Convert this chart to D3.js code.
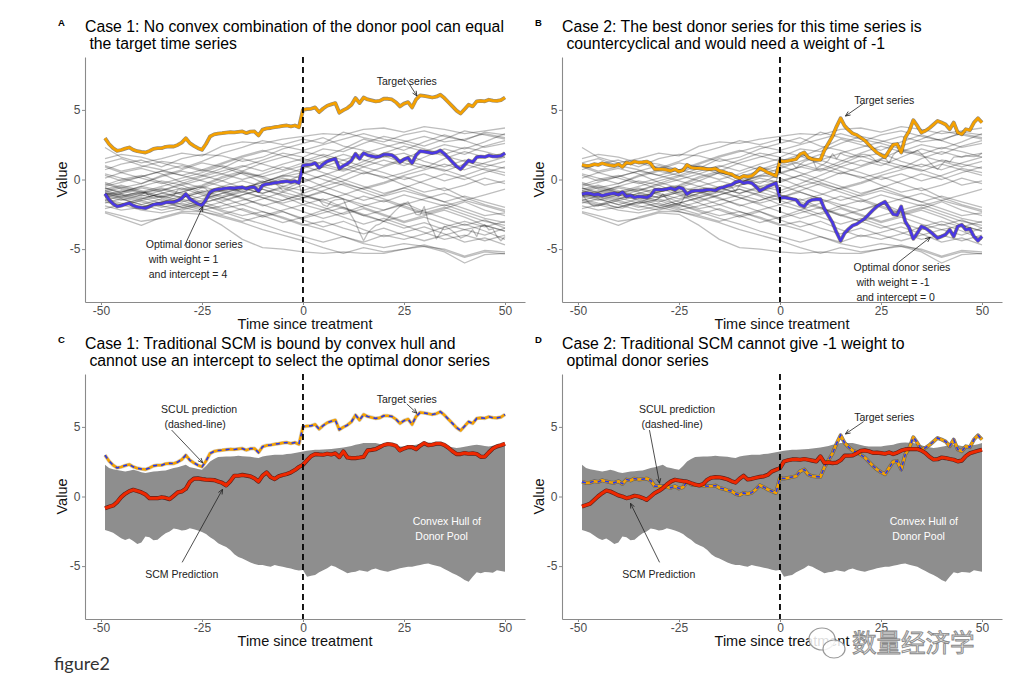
<!DOCTYPE html>
<html>
<head>
<meta charset="utf-8">
<script src="https://cdn.jsdelivr.net/npm/d3@7"></script>
<style>
  body { margin: 0; background: #fff; }
  text { font-family: "Liberation Sans", Arial, sans-serif; }
</style>
</head>
<body>
<script>
// ---- data ---------------------------------------------------------------
var time = d3.range(-49, 51);
var donorTime = [-49,-45,-40,-35,-30,-25,-20,-15,-10,-5,0,5,10,15,20,25,30,35,40,45,50];
var xTicks = [-50, -25, 0, 25, 50];
var yTicks = [-5, 0, 5];

// case 1: optimal donor, target = donor + 4
var optimalDonorA = [
  -1.03,-1.45,-1.75,-1.94,-1.88,-1.78,-1.70,-1.87,-1.97,-2.02,
  -2.06,-1.95,-1.80,-1.75,-1.75,-1.65,-1.62,-1.63,-1.52,-1.35,
  -1.03,-1.39,-1.58,-1.75,-1.87,-1.45,-0.91,-0.76,-0.70,-0.67,
  -0.63,-0.60,-0.62,-0.58,-0.55,-0.67,-0.56,-0.55,-0.84,-0.42,
  -0.33,-0.30,-0.24,-0.20,-0.15,-0.12,-0.19,-0.12,-0.25,
  1.01,1.06,1.08,1.18,0.84,1.10,1.30,1.40,1.49,0.80,
  0.98,1.13,1.37,1.85,1.49,1.89,1.75,1.68,1.61,1.65,
  1.80,1.80,1.75,1.55,1.25,1.45,1.56,1.18,1.75,2.04,
  2.00,1.95,1.89,1.95,2.09,1.85,1.55,1.25,0.95,0.74,
  1.05,1.37,1.25,1.61,1.65,1.62,1.73,1.66,1.65,1.70,1.89
];
var interceptA = 4;

// case 2: target, optimal donor = -1 * target
var targetB = [
  1.05,0.98,1.00,1.10,1.05,1.17,1.08,1.02,0.98,1.10,
  0.91,1.22,1.15,1.29,1.22,1.25,1.29,1.15,0.74,0.74,
  0.74,0.69,0.62,0.74,0.57,0.67,1.05,0.86,0.81,0.81,
  0.78,0.74,0.74,0.79,0.62,0.55,0.45,0.38,0.19,0.10,
  0.26,0.19,0.26,0.50,0.81,0.67,0.50,0.38,0.26,
  1.34,1.29,1.34,1.40,1.46,1.82,1.94,1.58,1.46,1.43,
  1.41,2.10,2.60,3.10,3.80,4.40,3.85,3.55,3.30,3.20,
  3.00,2.80,2.50,2.20,1.94,1.75,1.60,2.05,2.50,2.55,
  1.94,3.01,3.49,4.26,3.85,3.37,3.50,3.70,3.95,4.21,
  4.09,3.95,3.61,4.09,3.37,3.25,3.61,3.54,4.09,4.40,4.09
];
var weightB = -1;

// convex hull of the donor pool
var hullUpper = [
  2.28,2.05,1.95,1.90,1.85,1.80,1.85,1.92,1.85,1.75,
  1.68,1.75,1.80,1.82,1.85,1.87,1.95,2.04,2.10,2.20,
  2.28,2.10,2.04,1.98,1.92,2.20,2.52,2.70,2.83,2.85,
  2.88,2.88,2.90,2.93,2.90,2.88,2.85,2.80,2.76,2.88,
  2.93,2.96,3.00,3.00,3.00,3.05,3.08,3.12,3.18,
  3.24,3.28,3.32,3.36,3.36,3.38,3.40,3.41,3.45,3.48,
  3.52,3.58,3.62,3.72,3.78,3.84,3.84,3.84,3.84,3.78,
  3.70,3.62,3.60,3.60,3.60,3.60,3.64,3.68,3.72,3.80,
  3.86,3.88,3.86,3.84,3.78,3.68,3.60,3.54,3.48,3.52,
  3.58,3.62,3.68,3.72,3.68,3.62,3.60,3.64,3.70,3.76,3.84
];
var hullLower = [
  -2.40,-2.50,-2.60,-2.80,-3.00,-3.12,-3.02,-3.20,-3.41,-3.30,
  -2.88,-2.93,-3.15,-3.10,-2.85,-2.64,-2.52,-2.30,-2.36,-2.45,
  -2.40,-2.28,-2.36,-2.45,-2.55,-2.70,-2.93,-3.10,-3.35,-3.50,
  -3.62,-3.84,-4.15,-4.35,-4.45,-4.60,-4.75,-4.85,-4.92,-4.92,
  -5.00,-5.04,-4.92,-5.00,-5.04,-5.12,-5.18,-5.26,-5.32,
  -5.28,-5.76,-5.70,-5.64,-5.45,-5.30,-5.16,-4.95,-5.04,-5.20,
  -5.35,-5.52,-5.45,-5.40,-5.30,-5.35,-5.40,-5.25,-5.18,-5.28,
  -5.35,-5.40,-5.32,-5.25,-5.16,-5.10,-5.04,-5.04,-4.98,-4.92,
  -4.85,-4.82,-4.90,-4.98,-5.04,-5.20,-5.35,-5.52,-5.64,-5.80,
  -6.00,-6.12,-5.76,-5.45,-5.52,-5.42,-5.45,-5.47,-5.30,-5.35,-5.40
];

// traditional SCM predictions
var scmC = [
  -0.84,-0.74,-0.65,-0.40,-0.05,0.20,0.38,0.48,0.40,0.30,
  0.15,-0.12,-0.12,-0.12,-0.05,-0.10,-0.19,0.05,0.30,0.36,
  0.55,1.05,1.28,1.30,1.25,1.21,1.20,1.18,1.08,0.98,
  0.80,1.10,1.49,1.49,1.55,1.50,1.45,1.30,1.08,1.50,
  1.73,1.40,1.25,1.45,1.55,1.62,1.73,1.90,2.12,
  2.28,2.60,2.90,3.05,3.02,3.00,3.07,3.02,3.10,2.83,
  3.24,2.80,2.76,2.76,2.80,2.85,3.31,3.35,3.40,3.55,
  3.70,3.77,3.73,3.65,3.31,3.45,3.55,3.55,3.40,3.65,
  3.84,3.68,3.72,3.80,3.80,3.70,3.50,3.25,3.05,3.05,
  3.12,3.07,3.10,3.05,2.85,2.86,3.17,3.45,3.60,3.68,3.79
];
var scmD = [
  -0.72,-0.62,-0.52,-0.25,0.02,0.24,0.43,0.36,0.22,0.08,
  0.00,-0.12,-0.05,0.05,0.00,-0.10,-0.24,0.00,0.25,0.40,
  0.60,0.86,1.08,1.20,1.15,1.10,1.07,0.96,0.86,0.79,
  0.90,1.20,1.35,1.39,1.38,1.32,1.24,1.10,1.00,1.28,
  1.49,1.22,1.27,1.35,1.41,1.45,1.56,1.80,1.92,
  2.04,2.52,2.60,2.66,2.67,2.64,2.69,2.64,2.58,2.52,
  2.88,2.42,2.45,2.40,2.43,2.60,2.93,2.93,2.96,3.10,
  3.28,3.31,3.25,3.14,3.15,3.12,3.07,3.17,3.05,3.15,
  3.30,3.38,3.41,3.41,3.41,3.30,3.12,2.85,2.66,2.68,
  2.80,2.76,2.69,2.64,2.52,2.58,2.90,3.10,3.20,3.28,3.36
];

// donor pool (read every 5 periods)
var donors = [
  [2.3,1.6,1.2,1.5,1.9,1.7,2.4,2.7,2.6,2.9,3.1,3.3,3.2,3.6,3.7,3.4,3.8,3.6,3.3,3.5,3.7],
  [1.5,1.8,1.6,1.2,0.8,1.3,1.9,2.3,2.8,2.5,2.9,2.6,3.4,3.0,2.7,3.2,3.5,3.1,2.8,3.4,3.2],
  [1.0,0.6,0.9,1.3,1.1,0.7,0.4,0.9,1.4,1.9,1.6,2.2,2.0,2.6,3.1,2.8,2.4,2.9,3.5,3.2,2.9],
  [0.7,1.1,1.4,0.9,1.5,1.8,1.7,1.3,1.6,2.2,2.6,3.0,2.4,2.1,1.6,1.9,1.3,0.9,1.4,1.1,0.8],
  [0.4,0.1,-0.3,0.2,0.6,0.3,0.8,1.5,1.1,0.7,1.2,1.6,2.2,2.9,2.5,2.1,2.7,3.2,2.8,2.3,2.6],
  [0.1,0.5,0.8,0.4,-0.2,-0.6,-0.1,0.5,0.2,-0.3,0.4,0.9,0.6,1.1,1.7,1.2,0.8,1.5,2.0,1.6,1.9],
  [-0.2,-0.6,-0.3,0.3,0.7,1.2,0.9,0.4,-0.2,0.3,0.1,-0.5,-0.1,0.5,0.2,-0.4,-0.9,-0.6,-1.3,-1.8,-2.2],
  [-0.4,0.0,0.3,-0.2,-0.7,-0.4,0.2,0.6,1.2,1.6,2.0,1.7,1.1,0.6,0.1,0.5,1.0,0.7,0.2,-0.4,-0.1],
  [-0.6,-0.9,-0.5,-0.1,-0.4,-1.0,-1.5,-1.1,-0.7,-1.2,-1.8,-1.4,-2.0,-2.6,-2.2,-1.7,-2.3,-2.8,-3.3,-2.9,-3.5],
  [-0.7,-0.4,-0.8,-1.2,-0.9,-0.5,0.1,0.5,0.1,-0.5,-0.8,-0.3,0.3,0.9,1.4,1.0,1.6,2.2,1.8,2.4,2.8],
  [-0.8,-1.1,-1.4,-1.0,-0.6,-1.1,-1.7,-2.2,-2.7,-2.3,-2.9,-3.4,-3.0,-3.6,-4.1,-3.8,-3.4,-3.9,-4.5,-4.2,-4.7],
  [-0.9,-0.6,-0.9,-1.3,-1.6,-1.2,-0.8,-1.3,-1.9,-1.5,-1.0,-0.5,-1.0,-1.5,-1.1,-0.6,-0.1,0.4,0.0,0.5,0.9],
  [-1.0,-1.3,-1.0,-0.7,-1.1,-1.6,-2.1,-1.8,-1.4,-0.9,-0.4,-0.9,-1.4,-2.0,-2.5,-3.0,-2.6,-2.2,-2.7,-3.3,-3.7],
  [-1.1,-0.8,-1.2,-0.8,-0.3,0.2,0.6,1.0,0.6,1.1,1.5,1.1,0.7,1.3,1.9,2.4,2.0,2.5,2.2,2.7,3.3],
  [-1.2,-1.5,-1.1,-1.5,-2.0,-1.7,-1.3,-0.8,-1.3,-1.8,-2.3,-2.8,-2.4,-1.9,-1.5,-2.0,-2.5,-2.1,-1.6,-2.2,-2.6],
  [-1.3,-1.0,-0.6,-0.9,-1.3,-0.9,-1.3,-1.8,-2.3,-2.8,-3.3,-3.0,-3.5,-3.9,-3.5,-4.0,-4.4,-4.0,-3.6,-3.3,-3.7],
  [-1.4,-1.7,-2.0,-1.6,-1.2,-0.8,-1.2,-0.7,-0.2,0.3,0.8,1.3,1.8,1.4,1.0,1.5,2.1,1.7,1.3,0.9,1.3],
  [-1.5,-1.2,-1.5,-1.9,-2.2,-1.8,-2.3,-2.8,-3.2,-3.7,-4.1,-4.5,-4.1,-4.6,-4.9,-4.6,-4.8,-5.0,-5.5,-5.1,-5.2],
  [-1.6,-1.9,-1.5,-1.2,-1.5,-2.0,-1.6,-1.1,-0.7,-1.1,-1.5,-2.0,-2.5,-2.1,-2.6,-3.1,-2.7,-3.2,-3.6,-4.0,-3.5],
  [-1.7,-1.4,-1.8,-2.2,-1.9,-1.5,-1.0,-0.6,-1.0,-0.5,-0.1,0.3,-0.2,-0.7,-0.3,0.2,-0.3,-0.8,-0.4,0.1,-0.3],
  [-1.9,-2.2,-2.0,-1.6,-2.0,-2.3,-2.7,-3.1,-3.6,-4.0,-4.4,-4.9,-5.3,-4.9,-5.2,-5.0,-4.7,-5.1,-5.6,-5.2,-5.35],
  [-2.1,-1.8,-2.2,-2.4,-2.1,-1.7,-1.3,-0.9,-0.4,0.1,-0.2,0.3,0.8,0.4,0.9,1.4,1.0,0.6,1.1,0.7,0.3],
  [-2.3,-2.6,-3.0,-2.8,-2.4,-2.5,-3.3,-4.3,-4.9,-5.0,-5.2,-5.3,-5.2,-5.3,-5.3,-5.0,-4.8,-5.2,-6.0,-5.4,-5.3],
  [-2.4,-2.8,-3.3,-2.7,-2.3,-2.3,-2.6,-3.0,-2.6,-2.2,-1.8,-2.2,-1.7,-1.2,-1.6,-1.1,-1.5,-1.9,-1.5,-1.9,-2.3],
  [0.9,0.5,0.1,-0.3,0.1,0.5,1.0,0.6,0.2,0.6,1.0,0.5,0.0,-0.5,-1.0,-0.6,-1.1,-1.6,-2.1,-2.6,-2.4],
  [-0.3,-0.7,-1.0,-0.6,-1.0,-1.4,-1.0,-0.6,-0.2,0.2,0.5,0.0,-0.4,-0.9,-1.4,-1.9,-2.4,-2.0,-2.5,-3.0,-3.3],
  [-0.5,-0.2,0.2,0.6,1.0,0.6,1.1,1.6,2.0,2.4,2.1,2.5,2.9,3.3,2.9,2.6,2.2,1.8,2.3,2.0,1.6],
  [-1.0,-1.3,-1.6,-2.0,-1.7,-2.1,-2.5,-2.1,-2.6,-3.1,-2.7,-2.2,-2.7,-3.2,-2.8,-3.3,-3.8,-4.3,-4.0,-4.4,-4.0],
  [-0.8,-0.5,-0.9,-0.5,-0.1,0.3,-0.1,-0.6,-1.0,-0.6,-1.1,-1.5,-1.1,-0.6,-0.2,0.3,0.7,1.1,0.7,1.2,1.6],
  [-1.2,-0.9,-0.5,-0.8,-0.4,0.0,0.4,0.0,0.4,0.9,0.5,0.9,1.4,1.9,2.3,2.7,3.1,2.7,2.9,3.3,3.0],
  [1.2,1.5,1.0,0.7,0.3,-0.1,-0.5,-0.1,-0.5,-0.9,-1.3,-0.9,-1.4,-1.8,-2.2,-1.8,-1.4,-1.0,-1.5,-1.1,-0.7],
  [-1.5,-1.8,-1.4,-1.0,-1.3,-0.9,-0.5,-0.9,-1.3,-1.7,-1.3,-0.8,-0.3,-0.7,-1.2,-0.8,-1.2,-1.6,-1.2,-1.6,-2.0],
  [-0.6,-1.0,-1.3,-1.7,-1.4,-1.8,-2.2,-2.6,-2.3,-2.7,-3.2,-3.6,-4.1,-4.5,-4.0,-4.3,-3.9,-3.4,-3.0,-3.4,-3.0],
  [0.3,-0.1,0.2,0.6,0.3,0.7,1.2,1.7,2.1,1.7,1.3,1.8,1.4,0.9,0.5,0.0,0.4,-0.1,0.3,0.8,0.5],
  [-1.1,-1.4,-1.8,-1.4,-1.8,-2.2,-1.9,-1.5,-1.1,-1.5,-1.1,-1.6,-2.1,-2.6,-3.0,-2.6,-2.2,-1.8,-2.3,-2.8,-3.1],
  [-0.9,-1.2,-0.9,-1.3,-0.9,-0.5,-0.9,-1.4,-1.8,-2.3,-2.8,-2.4,-2.0,-2.5,-3.0,-3.5,-3.1,-3.6,-3.2,-3.7,-4.3]
];

var targetA = optimalDonorA.map(function (v) { return v + interceptA; });
var optimalDonorB = targetB.map(function (v) { return weightB * v; });

var titles = {
  A: ["Case 1: No convex combination of the donor pool can equal", " the target time series"],
  B: ["Case 2: The best donor series for this time series is", " countercyclical and would need a weight of -1"],
  C: ["Case 1: Traditional SCM is bound by convex hull and", " cannot use an intercept to select the optimal donor series"],
  D: ["Case 2: Traditional SCM cannot give -1 weight to", " optimal donor series"]
};

// annotations in data units
var notes = {
  A: {
    texts: [
      { t: 25.7, v: 6.79, anchor: "middle", lines: ["Target series"] },
      { t: -38.9, v: -4.92, anchor: "start", lines: ["Optimal donor series", " with weight = 1", " and intercept = 4"] }
    ],
    arrows: [[25.7, 7.15, 28.2, 6.0], [-29.3, -4.75, -24.8, -1.95]]
  },
  B: {
    texts: [
      { t: 25.8, v: 5.42, anchor: "middle", lines: ["Target series"] },
      { t: 18.2, v: -6.55, anchor: "start", lines: ["Optimal donor series", " with weight = -1", " and intercept = 0"] }
    ],
    arrows: [[20.7, 5.47, 16.2, 4.56], [29.0, -6.02, 37.2, -4.15]]
  },
  C: {
    texts: [
      { t: -25.7, v: 6.0, anchor: "middle", lines: ["SCUL prediction"] },
      { t: -26.7, v: 4.89, anchor: "middle", lines: ["(dashed-line)"] },
      { t: 25.7, v: 6.72, anchor: "middle", lines: ["Target series"] },
      { t: -30.0, v: -5.86, anchor: "middle", lines: ["SCM Prediction"] },
      { t: 35.6, v: -2.05, anchor: "middle", lines: ["Convex Hull of"], white: true },
      { t: 34.3, v: -3.13, anchor: "middle", lines: ["Donor Pool"], white: true }
    ],
    arrows: [[-32.5, 4.77, -24.8, 2.42], [25.7, 6.65, 28.2, 5.98], [-29.9, -4.73, -19.9, 0.52]]
  },
  D: {
    texts: [
      { t: -25.5, v: 6.0, anchor: "middle", lines: ["SCUL prediction"] },
      { t: -26.7, v: 4.89, anchor: "middle", lines: ["(dashed-line)"] },
      { t: 25.8, v: 5.39, anchor: "middle", lines: ["Target series"] },
      { t: -30.0, v: -5.86, anchor: "middle", lines: ["SCM Prediction"] },
      { t: 35.6, v: -2.05, anchor: "middle", lines: ["Convex Hull of"], white: true },
      { t: 34.3, v: -3.13, anchor: "middle", lines: ["Donor Pool"], white: true }
    ],
    arrows: [[-32.3, 4.77, -29.8, 0.95], [20.7, 5.38, 16.2, 4.49], [-29.8, -4.73, -37.0, -0.49]]
  }
};

// ---- layout -------------------------------------------------------------
var W = 1009, H = 688;
var plotW = 440, plotH = 245;
var xDomain = [-53.95, 54.95];
var yDomain = [-8.8, 8.8];

var panels = [
  { tag: "A", left: 85,  top: 57,  kind: "donor", target: targetA, optimal: optimalDonorA },
  { tag: "B", left: 562, top: 57,  kind: "donor", target: targetB, optimal: optimalDonorB },
  { tag: "C", left: 85,  top: 374, kind: "scm",   target: targetA, scm: scmC },
  { tag: "D", left: 562, top: 374, kind: "scm",   target: targetB, scm: scmD }
];

var svg = d3.select("body").append("svg")
  .attr("width", W)
  .attr("height", H);

svg.append("defs").append("marker")
  .attr("id", "arrow")
  .attr("viewBox", "0 0 10 10")
  .attr("refX", 9).attr("refY", 5)
  .attr("markerUnits", "userSpaceOnUse")
  .attr("markerWidth", 6).attr("markerHeight", 6)
  .attr("orient", "auto")
  .append("path")
  .attr("d", "M1,1.5 L9,5 L1,8.5")
  .attr("fill", "none")
  .attr("stroke", "#222")
  .attr("stroke-width", 1.3);

// all gray lines: the donor pool plus both optimal donors
var pool = donors.map(function (d) {
  return d.map(function (v, i) { return [donorTime[i], v]; });
});
pool.push(optimalDonorA.map(function (v, i) { return [time[i], v]; }));
pool.push(optimalDonorB.map(function (v, i) { return [time[i], v]; }));

panels.forEach(function (p) {
  var x = d3.scaleLinear().domain(xDomain).range([p.left, p.left + plotW]);
  var y = d3.scaleLinear().domain(yDomain).range([p.top + plotH, p.top]);
  var g = svg.append("g");

  var seriesLine = d3.line()
    .x(function (d, i) { return x(time[i]); })
    .y(function (d) { return y(d); });
  var pairLine = d3.line()
    .x(function (d) { return x(d[0]); })
    .y(function (d) { return y(d[1]); });

  if (p.kind === "donor") {
    g.append("g").selectAll("path")
      .data(pool)
      .enter().append("path")
      .attr("d", pairLine)
      .attr("fill", "none")
      .attr("stroke", "#000")
      .attr("stroke-opacity", 0.26)
      .attr("stroke-width", 1.3)
      .attr("stroke-linejoin", "round");

    [[p.optimal, "#4a38e2"], [p.target, "#f5a100"]].forEach(function (s) {
      g.append("path").attr("d", seriesLine(s[0]))
        .attr("fill", "none").attr("stroke", "#3a2a10")
        .attr("stroke-opacity", 0.55).attr("stroke-width", 3.8)
        .attr("stroke-linejoin", "round");
      g.append("path").attr("d", seriesLine(s[0]))
        .attr("fill", "none").attr("stroke", s[1])
        .attr("stroke-width", 2.6).attr("stroke-linejoin", "round");
    });
  } else {
    var area = d3.area()
      .x(function (d, i) { return x(time[i]); })
      .y0(function (d, i) { return y(hullLower[i]); })
      .y1(function (d) { return y(d); });
    g.append("path").attr("d", area(hullUpper)).attr("fill", "#8e8e8e");

    // SCUL prediction over the target
    g.append("path").attr("d", seriesLine(p.target))
      .attr("fill", "none").attr("stroke", "#555")
      .attr("stroke-opacity", p.tag === "D" ? 0.8 : 0.25)
      .attr("stroke-width", 3.8).attr("stroke-linejoin", "round");
    g.append("path").attr("d", seriesLine(p.target))
      .attr("fill", "none").attr("stroke", "#f5a100")
      .attr("stroke-width", 2.6).attr("stroke-linejoin", "round");
    g.append("path").attr("d", seriesLine(p.target))
      .attr("fill", "none").attr("stroke", "#2238f0")
      .attr("stroke-width", 1.6).attr("stroke-dasharray", "4,4");

    g.append("path").attr("d", seriesLine(p.scm))
      .attr("fill", "none").attr("stroke", "#4a0800")
      .attr("stroke-opacity", 0.8)
      .attr("stroke-width", 4.2).attr("stroke-linejoin", "round");
    g.append("path").attr("d", seriesLine(p.scm))
      .attr("fill", "none").attr("stroke", "#ee2800")
      .attr("stroke-width", 3).attr("stroke-linejoin", "round");
  }

  // treatment line
  g.append("line")
    .attr("x1", x(0)).attr("x2", x(0))
    .attr("y1", p.top).attr("y2", p.top + plotH)
    .attr("stroke", "#000").attr("stroke-width", 1.8)
    .attr("stroke-dasharray", "6,4");

  // axes (plain hyphen minus, as in the reference)
  var fmt = function (d) { return String(d); };
  var xAxis = g.append("g")
    .attr("transform", "translate(0," + (p.top + plotH) + ")")
    .call(d3.axisBottom(x).tickValues(xTicks).tickFormat(fmt)
      .tickSize(3).tickSizeOuter(0).tickPadding(1.5));
  var yAxis = g.append("g")
    .attr("transform", "translate(" + p.left + ",0)")
    .call(d3.axisLeft(y).tickValues(yTicks).tickFormat(fmt)
      .tickSize(3).tickSizeOuter(0).tickPadding(1.5));
  [xAxis, yAxis].forEach(function (a) {
    a.select(".domain").attr("stroke", "#8a8a8a").attr("stroke-width", 1.1);
    a.selectAll(".tick line").attr("stroke", "#8a8a8a");
    a.selectAll(".tick text")
      .attr("fill", "#4d4d4d")
      .style("font-size", "12px")
      .style("font-family", "'Liberation Sans', Arial, sans-serif");
  });

  g.append("text")
    .attr("x", p.left + plotW / 2).attr("y", p.top + plotH + 27)
    .attr("text-anchor", "middle")
    .style("font-size", "14.5px").attr("fill", "#111")
    .text("Time since treatment");
  g.append("text")
    .attr("transform", "translate(" + (p.left - 18) + "," + (p.top + plotH / 2) + ") rotate(-90)")
    .attr("text-anchor", "middle")
    .style("font-size", "14.5px").attr("fill", "#111")
    .text("Value");

  // tag and title
  g.append("text")
    .attr("x", p.left - 27).attr("y", p.top - 31)
    .style("font-size", "9.5px").style("font-weight", "bold")
    .attr("fill", "#000")
    .text(p.tag);
  titles[p.tag].forEach(function (line, i) {
    g.append("text")
      .attr("x", p.left).attr("y", p.top - 25 + i * 16.7)
      .style("font-size", "15.8px").style("white-space", "pre")
      .attr("fill", "#000")
      .text(line);
  });

  // annotations
  var n = notes[p.tag];
  n.arrows.forEach(function (a) {
    g.append("line")
      .attr("x1", x(a[0])).attr("y1", y(a[1]))
      .attr("x2", x(a[2])).attr("y2", y(a[3]))
      .attr("stroke", "#222").attr("stroke-width", 0.8)
      .attr("marker-end", "url(#arrow)");
  });
  n.texts.forEach(function (tx) {
    tx.lines.forEach(function (line, i) {
      g.append("text")
        .attr("x", x(tx.t)).attr("y", y(tx.v) + i * 15)
        .attr("text-anchor", tx.anchor)
        .style("font-size", "10.5px").style("white-space", "pre")
        .attr("fill", tx.white ? "#fff" : "#222")
        .text(line);
    });
  });
});

// caption below the figure
svg.append("text")
  .attr("x", 54).attr("y", 670)
  .style("font-family", "Lato, 'Open Sans', sans-serif")
  .style("font-size", "18px")
  .attr("fill", "#333")
  .text("figure2");

// watermark
var wm = svg.append("g");
wm.append("ellipse").attr("cx", 822).attr("cy", 639).attr("rx", 13).attr("ry", 11)
  .attr("fill", "#fff").attr("fill-opacity", 0.85).attr("stroke", "#999").attr("stroke-width", 1.2);
wm.append("ellipse").attr("cx", 834).attr("cy", 649).attr("rx", 11).attr("ry", 9)
  .attr("fill", "#fff").attr("fill-opacity", 0.85).attr("stroke", "#999").attr("stroke-width", 1.2);
wm.append("text")
  .attr("x", 852).attr("y", 652)
  .style("font-family", "'Noto Sans CJK SC', sans-serif")
  .style("font-size", "24.5px")
  .attr("fill", "#e6e6e6").attr("stroke", "#888").attr("stroke-width", 0.9)
  .text("数量经济学");
</script>
</body>
</html>
